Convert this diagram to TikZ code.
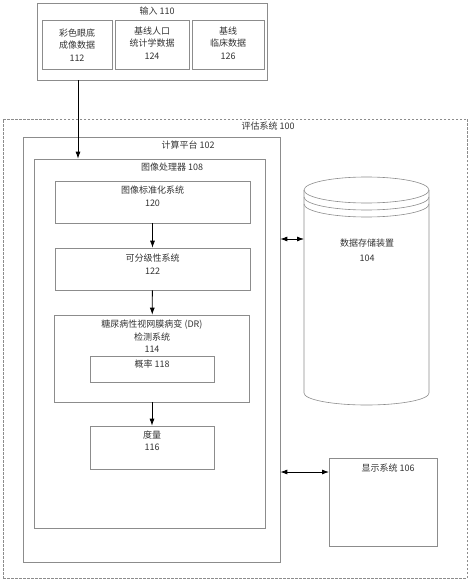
\documentclass[tikz,border=0pt]{standalone}
\usepackage{fontspec}
\newfontfamily\cjk{Noto Sans CJK SC}
\usepackage{tikz}
\usetikzlibrary{positioning, arrows.meta}
\tikzset{box/.style={draw=black!45, line width=.6pt, inner sep=0pt}, evalbox/.style={draw=black!45, line width=.6pt, dash pattern=on 2.5pt off 1.5pt, inner sep=0pt},
         txt/.style={align=center, text=black!80, inner sep=0pt}, arr/.style={-{Latex[length=7pt,width=5pt]}, line width=.8pt}, dblarr/.style={{Latex[length=7pt,width=5pt]}-{Latex[length=7pt,width=5pt]}, line width=.8pt}}

\begin{document}
\begin{tikzpicture}[x=1pt, y=-1pt, font=\cjk\fontsize{9}{12.5}\selectfont]

                 \useasboundingbox (0,0) rectangle (474,583);

                 % input
                 \node[box, minimum width=230pt, minimum height=77pt] (input) at (152,41.5) {};
                 \node[txt] (inputT) at (157,11) {输入 110};
                 \node[box, minimum width=70pt, minimum height=49pt] (d112) at (77,44.5) {};
                 \node[txt] (d112T) at (77,45) {彩色眼底\\成像数据\\112};
                 \node[box, minimum width=74pt, minimum height=49pt] (d124) at (152,44.5) {};
                 \node[txt] (d124T) at (152,43) {基线人口\\统计学数据\\124};
                 \node[box, minimum width=72pt, minimum height=49pt] (d126) at (228,44.5) {};
                 \node[txt] (d126T) at (228,43) {基线\\临床数据\\126};

                 % assessment system
                 \node[evalbox, minimum width=464pt, minimum height=459pt] (eval) at (235,348.5) {};
                 \node[txt] (evalT) at (268,126) {评估系统 100};
                 \node[box, minimum width=257pt, minimum height=425pt] (platform) at (151.5,349.5) {};
                 \node[txt] (platformT) at (188,145) {计算平台 102};
                 \node[box, minimum width=231pt, minimum height=369pt] (proc) at (149.5,343.5) {};
                 \node[txt] (procT) at (172,167) {图像处理器 108};

                 \node[box, minimum width=195pt, minimum height=42pt] (s120) at (152.5,202) {};
                 \node[txt] (s120T) at (152.5,196.5) {图像标准化系统\\120};
                 \node[box, minimum width=195pt, minimum height=42pt] (s122) at (152.5,269) {};
                 \node[txt] (s122T) at (152.5,264) {可分级性系统\\122};
                 \node[box, minimum width=195pt, minimum height=87pt] (s114) at (152,358.5) {};
                 \node[txt] (s114T) at (152,336.5) {糖尿病性视网膜病变 (DR)\\检测系统\\114};
                 \node[box, minimum width=124pt, minimum height=26pt] (p118) at (152,369) {};
                 \node[txt] (p118T) at (152,364) {概率 118};
                 \node[box, minimum width=124pt, minimum height=43pt] (m116) at (152,447.5) {};
                 \node[txt] (m116T) at (152,441) {度量\\116};

                 % data storage
                 \draw[black!45, line width=.6pt] (304,190) -- (304,393) arc[start angle=180, end angle=0, x radius=62.5, y radius=12] -- (429,190);
                 \draw[black!45, line width=.6pt] (366.5,190) ellipse [x radius=62.5, y radius=13];
                 \draw[black!45, line width=.6pt] (304,197) arc[start angle=180, end angle=0, x radius=62.5, y radius=13];
                 \draw[black!45, line width=.6pt] (304,204) arc[start angle=180, end angle=0, x radius=62.5, y radius=13];
                 \node[txt] (storeT) at (367,250.5) {数据存储装置\\[2pt]104};
                 \coordinate (storeW) at (304,239);

                 % display
                 \node[box, minimum width=108pt, minimum height=88pt] (display) at (383,502) {};
                 \node[txt] (displayT) at (388,468) {显示系统 106};
                 \coordinate (dispW) at (329,472);

                 % arrows
                 \coordinate (inx) at (78,0);
                 \draw[arr] (input.south -| inx) -- (proc.north -| inx);
                 \draw[arr] (s120) -- (s122);
                 \draw[arr] (s122) -- (s114);
                 \draw[arr] (s114) -- (m116);
                 \draw[dblarr] (platform.east |- storeW) -- (storeW);
                 \draw[dblarr] (platform.east |- dispW) -- (dispW);

\end{tikzpicture}
\end{document}
